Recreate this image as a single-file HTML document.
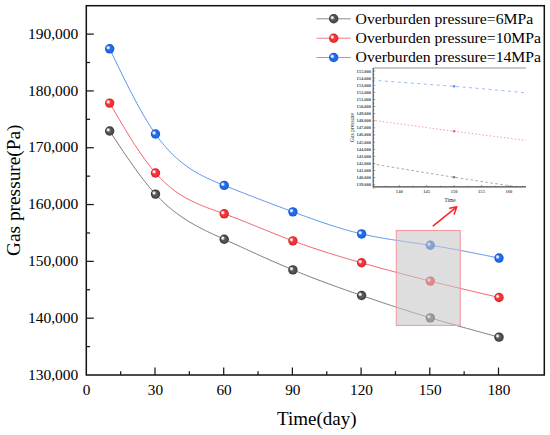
<!DOCTYPE html><html><head><meta charset="utf-8"><style>html,body{margin:0;padding:0;background:#fff}svg{display:block}text{font-family:"Liberation Serif",serif}</style></head><body>
<svg width="550" height="435" viewBox="0 0 550 435">
<defs>
<radialGradient id="gk" cx="0.5" cy="0.5" r="0.5"><stop offset="0" stop-color="#626262"/><stop offset="0.65" stop-color="#505050"/><stop offset="1" stop-color="#343434"/></radialGradient>
<radialGradient id="gr" cx="0.5" cy="0.5" r="0.5"><stop offset="0" stop-color="#f6403e"/><stop offset="0.65" stop-color="#f03034"/><stop offset="1" stop-color="#da2228"/></radialGradient>
<radialGradient id="gb" cx="0.5" cy="0.5" r="0.5"><stop offset="0" stop-color="#2a74ee"/><stop offset="0.65" stop-color="#1f68e6"/><stop offset="1" stop-color="#1656d0"/></radialGradient>
<radialGradient id="hl" cx="0.5" cy="0.5" r="0.5"><stop offset="0" stop-color="#fff" stop-opacity="1"/><stop offset="0.4" stop-color="#fff" stop-opacity="0.85"/><stop offset="1" stop-color="#fff" stop-opacity="0"/></radialGradient>
</defs>
<rect width="550" height="435" fill="#fff"/>
<path d="M109.70,131.03 L111.66,134.01 L113.61,136.99 L115.57,139.95 L117.53,142.91 L119.48,145.86 L121.44,148.79 L123.39,151.70 L125.35,154.59 L127.31,157.46 L129.26,160.29 L131.22,163.10 L133.18,165.87 L135.13,168.61 L137.09,171.30 L139.04,173.95 L141.00,176.56 L142.96,179.11 L144.91,181.61 L146.87,184.06 L148.83,186.44 L150.78,188.77 L152.74,191.03 L154.69,193.22 L156.65,195.34 L158.61,197.39 L160.56,199.36 L162.52,201.28 L164.48,203.12 L166.43,204.91 L168.39,206.63 L170.34,208.29 L172.30,209.90 L174.26,211.45 L176.21,212.95 L178.17,214.40 L180.13,215.80 L182.08,217.16 L184.04,218.47 L185.99,219.74 L187.95,220.98 L189.91,222.17 L191.86,223.33 L193.82,224.45 L195.78,225.55 L197.73,226.61 L199.69,227.65 L201.65,228.66 L203.60,229.66 L205.56,230.63 L207.51,231.58 L209.47,232.52 L211.43,233.44 L213.38,234.35 L215.34,235.25 L217.30,236.14 L219.25,237.03 L221.21,237.92 L223.16,238.80 L225.12,239.68 L227.08,240.57 L229.03,241.46 L230.99,242.35 L232.95,243.24 L234.90,244.13 L236.86,245.02 L238.81,245.91 L240.77,246.81 L242.73,247.70 L244.68,248.59 L246.64,249.49 L248.60,250.38 L250.55,251.27 L252.51,252.16 L254.46,253.05 L256.42,253.94 L258.38,254.82 L260.33,255.70 L262.29,256.58 L264.25,257.46 L266.20,258.34 L268.16,259.21 L270.12,260.08 L272.07,260.95 L274.03,261.81 L275.98,262.67 L277.94,263.52 L279.90,264.37 L281.85,265.22 L283.81,266.06 L285.77,266.89 L287.72,267.72 L289.68,268.55 L291.63,269.37 L293.59,270.18 L295.55,270.98 L297.50,271.78 L299.46,272.58 L301.42,273.37 L303.37,274.15 L305.33,274.93 L307.28,275.70 L309.24,276.47 L311.20,277.23 L313.15,277.99 L315.11,278.74 L317.07,279.49 L319.02,280.23 L320.98,280.97 L322.93,281.70 L324.89,282.43 L326.85,283.16 L328.80,283.88 L330.76,284.60 L332.72,285.31 L334.67,286.02 L336.63,286.73 L338.58,287.43 L340.54,288.14 L342.50,288.83 L344.45,289.53 L346.41,290.22 L348.37,290.91 L350.32,291.60 L352.28,292.28 L354.24,292.96 L356.19,293.64 L358.15,294.32 L360.10,295.00 L362.06,295.67 L364.02,296.35 L365.97,297.02 L367.93,297.69 L369.89,298.36 L371.84,299.02 L373.80,299.68 L375.75,300.35 L377.71,301.01 L379.67,301.66 L381.62,302.32 L383.58,302.97 L385.54,303.63 L387.49,304.28 L389.45,304.92 L391.40,305.57 L393.36,306.21 L395.32,306.85 L397.27,307.49 L399.23,308.12 L401.19,308.76 L403.14,309.39 L405.10,310.01 L407.05,310.64 L409.01,311.26 L410.97,311.88 L412.92,312.50 L414.88,313.11 L416.84,313.72 L418.79,314.33 L420.75,314.93 L422.71,315.54 L424.66,316.14 L426.62,316.73 L428.57,317.32 L430.53,317.91 L432.49,318.50 L434.44,319.08 L436.40,319.66 L438.36,320.24 L440.31,320.81 L442.27,321.38 L444.22,321.95 L446.18,322.52 L448.14,323.08 L450.09,323.64 L452.05,324.20 L454.01,324.76 L455.96,325.31 L457.92,325.87 L459.87,326.42 L461.83,326.97 L463.79,327.51 L465.74,328.06 L467.70,328.60 L469.66,329.14 L471.61,329.68 L473.57,330.22 L475.52,330.76 L477.48,331.30 L479.44,331.84 L481.39,332.37 L483.35,332.90 L485.31,333.44 L487.26,333.97 L489.22,334.50 L491.17,335.04 L493.13,335.57 L495.09,336.10 L497.04,336.63 L499.00,337.16" fill="none" stroke="#7a7a7a" stroke-width="1"/>
<path d="M109.70,103.08 L111.66,106.44 L113.61,109.80 L115.57,113.14 L117.53,116.48 L119.48,119.80 L121.44,123.09 L123.39,126.37 L125.35,129.61 L127.31,132.82 L129.26,136.00 L131.22,139.13 L133.18,142.22 L135.13,145.26 L137.09,148.25 L139.04,151.17 L141.00,154.04 L142.96,156.84 L144.91,159.57 L146.87,162.23 L148.83,164.81 L150.78,167.31 L152.74,169.72 L154.69,172.04 L156.65,174.26 L158.61,176.39 L160.56,178.43 L162.52,180.39 L164.48,182.25 L166.43,184.04 L168.39,185.74 L170.34,187.37 L172.30,188.93 L174.26,190.41 L176.21,191.83 L178.17,193.18 L180.13,194.47 L182.08,195.71 L184.04,196.89 L185.99,198.01 L187.95,199.09 L189.91,200.12 L191.86,201.10 L193.82,202.05 L195.78,202.96 L197.73,203.83 L199.69,204.68 L201.65,205.49 L203.60,206.28 L205.56,207.05 L207.51,207.80 L209.47,208.53 L211.43,209.24 L213.38,209.95 L215.34,210.65 L217.30,211.35 L219.25,212.04 L221.21,212.74 L223.16,213.44 L225.12,214.15 L227.08,214.87 L229.03,215.59 L230.99,216.33 L232.95,217.07 L234.90,217.82 L236.86,218.57 L238.81,219.33 L240.77,220.10 L242.73,220.87 L244.68,221.65 L246.64,222.43 L248.60,223.21 L250.55,224.00 L252.51,224.79 L254.46,225.58 L256.42,226.38 L258.38,227.17 L260.33,227.97 L262.29,228.76 L264.25,229.56 L266.20,230.35 L268.16,231.15 L270.12,231.94 L272.07,232.73 L274.03,233.51 L275.98,234.30 L277.94,235.08 L279.90,235.85 L281.85,236.62 L283.81,237.39 L285.77,238.15 L287.72,238.90 L289.68,239.65 L291.63,240.38 L293.59,241.12 L295.55,241.84 L297.50,242.55 L299.46,243.26 L301.42,243.96 L303.37,244.66 L305.33,245.34 L307.28,246.02 L309.24,246.69 L311.20,247.36 L313.15,248.02 L315.11,248.67 L317.07,249.32 L319.02,249.96 L320.98,250.60 L322.93,251.23 L324.89,251.85 L326.85,252.47 L328.80,253.08 L330.76,253.69 L332.72,254.30 L334.67,254.90 L336.63,255.49 L338.58,256.08 L340.54,256.67 L342.50,257.26 L344.45,257.84 L346.41,258.41 L348.37,258.99 L350.32,259.56 L352.28,260.12 L354.24,260.69 L356.19,261.25 L358.15,261.81 L360.10,262.37 L362.06,262.92 L364.02,263.47 L365.97,264.02 L367.93,264.57 L369.89,265.12 L371.84,265.67 L373.80,266.21 L375.75,266.75 L377.71,267.29 L379.67,267.83 L381.62,268.36 L383.58,268.90 L385.54,269.43 L387.49,269.96 L389.45,270.49 L391.40,271.01 L393.36,271.54 L395.32,272.06 L397.27,272.58 L399.23,273.10 L401.19,273.61 L403.14,274.13 L405.10,274.64 L407.05,275.15 L409.01,275.66 L410.97,276.17 L412.92,276.67 L414.88,277.18 L416.84,277.68 L418.79,278.18 L420.75,278.68 L422.71,279.17 L424.66,279.67 L426.62,280.16 L428.57,280.65 L430.53,281.14 L432.49,281.63 L434.44,282.11 L436.40,282.60 L438.36,283.08 L440.31,283.56 L442.27,284.04 L444.22,284.52 L446.18,285.00 L448.14,285.47 L450.09,285.94 L452.05,286.42 L454.01,286.89 L455.96,287.36 L457.92,287.83 L459.87,288.29 L461.83,288.76 L463.79,289.23 L465.74,289.69 L467.70,290.16 L469.66,290.62 L471.61,291.08 L473.57,291.54 L475.52,292.00 L477.48,292.46 L479.44,292.92 L481.39,293.38 L483.35,293.84 L485.31,294.30 L487.26,294.76 L489.22,295.22 L491.17,295.67 L493.13,296.13 L495.09,296.59 L497.04,297.05 L499.00,297.50" fill="none" stroke="#f2626c" stroke-width="1"/>
<path d="M109.70,48.82 L111.66,52.90 L113.61,56.96 L115.57,61.02 L117.53,65.06 L119.48,69.09 L121.44,73.09 L123.39,77.06 L125.35,81.00 L127.31,84.90 L129.26,88.76 L131.22,92.57 L133.18,96.33 L135.13,100.04 L137.09,103.68 L139.04,107.25 L141.00,110.76 L142.96,114.18 L144.91,117.53 L146.87,120.79 L148.83,123.97 L150.78,127.04 L152.74,130.02 L154.69,132.89 L156.65,135.66 L158.61,138.31 L160.56,140.86 L162.52,143.31 L164.48,145.66 L166.43,147.91 L168.39,150.07 L170.34,152.13 L172.30,154.11 L174.26,156.00 L176.21,157.82 L178.17,159.55 L180.13,161.21 L182.08,162.80 L184.04,164.32 L185.99,165.77 L187.95,167.16 L189.91,168.49 L191.86,169.77 L193.82,170.99 L195.78,172.16 L197.73,173.28 L199.69,174.36 L201.65,175.40 L203.60,176.40 L205.56,177.36 L207.51,178.30 L209.47,179.20 L211.43,180.08 L213.38,180.94 L215.34,181.77 L217.30,182.60 L219.25,183.40 L221.21,184.20 L223.16,184.99 L225.12,185.78 L227.08,186.56 L229.03,187.34 L230.99,188.12 L232.95,188.90 L234.90,189.67 L236.86,190.45 L238.81,191.22 L240.77,191.99 L242.73,192.75 L244.68,193.52 L246.64,194.28 L248.60,195.04 L250.55,195.80 L252.51,196.56 L254.46,197.31 L256.42,198.06 L258.38,198.82 L260.33,199.57 L262.29,200.31 L264.25,201.06 L266.20,201.81 L268.16,202.55 L270.12,203.29 L272.07,204.03 L274.03,204.77 L275.98,205.51 L277.94,206.24 L279.90,206.98 L281.85,207.71 L283.81,208.44 L285.77,209.17 L287.72,209.90 L289.68,210.63 L291.63,211.36 L293.59,212.08 L295.55,212.81 L297.50,213.53 L299.46,214.25 L301.42,214.97 L303.37,215.68 L305.33,216.40 L307.28,217.11 L309.24,217.81 L311.20,218.51 L313.15,219.21 L315.11,219.90 L317.07,220.59 L319.02,221.27 L320.98,221.94 L322.93,222.61 L324.89,223.27 L326.85,223.92 L328.80,224.57 L330.76,225.21 L332.72,225.84 L334.67,226.46 L336.63,227.07 L338.58,227.67 L340.54,228.27 L342.50,228.85 L344.45,229.42 L346.41,229.98 L348.37,230.53 L350.32,231.07 L352.28,231.60 L354.24,232.11 L356.19,232.61 L358.15,233.10 L360.10,233.57 L362.06,234.03 L364.02,234.48 L365.97,234.91 L367.93,235.33 L369.89,235.74 L371.84,236.14 L373.80,236.52 L375.75,236.89 L377.71,237.26 L379.67,237.61 L381.62,237.96 L383.58,238.29 L385.54,238.62 L387.49,238.94 L389.45,239.26 L391.40,239.56 L393.36,239.87 L395.32,240.16 L397.27,240.46 L399.23,240.74 L401.19,241.03 L403.14,241.31 L405.10,241.59 L407.05,241.87 L409.01,242.15 L410.97,242.42 L412.92,242.70 L414.88,242.97 L416.84,243.25 L418.79,243.53 L420.75,243.81 L422.71,244.10 L424.66,244.38 L426.62,244.67 L428.57,244.97 L430.53,245.27 L432.49,245.57 L434.44,245.89 L436.40,246.20 L438.36,246.52 L440.31,246.85 L442.27,247.18 L444.22,247.51 L446.18,247.85 L448.14,248.19 L450.09,248.54 L452.05,248.89 L454.01,249.25 L455.96,249.61 L457.92,249.97 L459.87,250.33 L461.83,250.70 L463.79,251.07 L465.74,251.45 L467.70,251.82 L469.66,252.20 L471.61,252.58 L473.57,252.96 L475.52,253.35 L477.48,253.74 L479.44,254.13 L481.39,254.52 L483.35,254.91 L485.31,255.30 L487.26,255.70 L489.22,256.09 L491.17,256.49 L493.13,256.88 L495.09,257.28 L497.04,257.68 L499.00,258.07" fill="none" stroke="#5a96ee" stroke-width="1"/>
<circle cx="109.70" cy="131.03" r="4.7" fill="url(#gk)"/>
<circle cx="108.25" cy="129.88" r="2.3" fill="url(#hl)"/>
<circle cx="155.50" cy="194.10" r="4.7" fill="url(#gk)"/>
<circle cx="154.05" cy="192.95" r="2.3" fill="url(#hl)"/>
<circle cx="224.20" cy="239.27" r="4.7" fill="url(#gk)"/>
<circle cx="222.75" cy="238.12" r="2.3" fill="url(#hl)"/>
<circle cx="292.90" cy="269.89" r="4.7" fill="url(#gk)"/>
<circle cx="291.45" cy="268.74" r="2.3" fill="url(#hl)"/>
<circle cx="361.60" cy="295.52" r="4.7" fill="url(#gk)"/>
<circle cx="360.15" cy="294.37" r="2.3" fill="url(#hl)"/>
<circle cx="430.30" cy="317.84" r="4.7" fill="url(#gk)"/>
<circle cx="428.85" cy="316.69" r="2.3" fill="url(#hl)"/>
<circle cx="499.00" cy="337.16" r="4.7" fill="url(#gk)"/>
<circle cx="497.55" cy="336.01" r="2.3" fill="url(#hl)"/>
<circle cx="109.70" cy="103.08" r="4.7" fill="url(#gr)"/>
<circle cx="108.25" cy="101.93" r="2.3" fill="url(#hl)"/>
<circle cx="155.50" cy="172.96" r="4.7" fill="url(#gr)"/>
<circle cx="154.05" cy="171.81" r="2.3" fill="url(#hl)"/>
<circle cx="224.20" cy="213.81" r="4.7" fill="url(#gr)"/>
<circle cx="222.75" cy="212.66" r="2.3" fill="url(#hl)"/>
<circle cx="292.90" cy="240.86" r="4.7" fill="url(#gr)"/>
<circle cx="291.45" cy="239.71" r="2.3" fill="url(#hl)"/>
<circle cx="361.60" cy="262.79" r="4.7" fill="url(#gr)"/>
<circle cx="360.15" cy="261.64" r="2.3" fill="url(#hl)"/>
<circle cx="430.30" cy="281.08" r="4.7" fill="url(#gr)"/>
<circle cx="428.85" cy="279.93" r="2.3" fill="url(#hl)"/>
<circle cx="499.00" cy="297.50" r="4.7" fill="url(#gr)"/>
<circle cx="497.55" cy="296.35" r="2.3" fill="url(#hl)"/>
<circle cx="109.70" cy="48.82" r="4.7" fill="url(#gb)"/>
<circle cx="108.25" cy="47.67" r="2.3" fill="url(#hl)"/>
<circle cx="155.50" cy="134.05" r="4.7" fill="url(#gb)"/>
<circle cx="154.05" cy="132.90" r="2.3" fill="url(#hl)"/>
<circle cx="224.20" cy="185.41" r="4.7" fill="url(#gb)"/>
<circle cx="222.75" cy="184.26" r="2.3" fill="url(#hl)"/>
<circle cx="292.90" cy="211.83" r="4.7" fill="url(#gb)"/>
<circle cx="291.45" cy="210.68" r="2.3" fill="url(#hl)"/>
<circle cx="361.60" cy="233.93" r="4.7" fill="url(#gb)"/>
<circle cx="360.15" cy="232.78" r="2.3" fill="url(#hl)"/>
<circle cx="430.30" cy="245.23" r="4.7" fill="url(#gb)"/>
<circle cx="428.85" cy="244.08" r="2.3" fill="url(#hl)"/>
<circle cx="499.00" cy="258.07" r="4.7" fill="url(#gb)"/>
<circle cx="497.55" cy="256.92" r="2.3" fill="url(#hl)"/>
<rect x="396.3" y="230.5" width="64" height="94.9" fill="#c8c8c8" fill-opacity="0.6" stroke="#f29ca0" stroke-width="1.1"/>
<rect x="86.3" y="5.7" width="458" height="369.3" fill="none" stroke="#111" stroke-width="1.5"/>
<line x1="120.65" y1="375" x2="120.65" y2="371.2" stroke="#1a1a1a" stroke-width="1.25"/>
<line x1="155.00" y1="375" x2="155.00" y2="367.5" stroke="#1a1a1a" stroke-width="1.25"/>
<line x1="189.35" y1="375" x2="189.35" y2="371.2" stroke="#1a1a1a" stroke-width="1.25"/>
<line x1="223.70" y1="375" x2="223.70" y2="367.5" stroke="#1a1a1a" stroke-width="1.25"/>
<line x1="258.05" y1="375" x2="258.05" y2="371.2" stroke="#1a1a1a" stroke-width="1.25"/>
<line x1="292.40" y1="375" x2="292.40" y2="367.5" stroke="#1a1a1a" stroke-width="1.25"/>
<line x1="326.75" y1="375" x2="326.75" y2="371.2" stroke="#1a1a1a" stroke-width="1.25"/>
<line x1="361.10" y1="375" x2="361.10" y2="367.5" stroke="#1a1a1a" stroke-width="1.25"/>
<line x1="395.45" y1="375" x2="395.45" y2="371.2" stroke="#1a1a1a" stroke-width="1.25"/>
<line x1="429.80" y1="375" x2="429.80" y2="367.5" stroke="#1a1a1a" stroke-width="1.25"/>
<line x1="464.15" y1="375" x2="464.15" y2="371.2" stroke="#1a1a1a" stroke-width="1.25"/>
<line x1="498.50" y1="375" x2="498.50" y2="367.5" stroke="#1a1a1a" stroke-width="1.25"/>
<text x="86.70" y="395.2" font-size="15.3" text-anchor="middle">0</text>
<text x="155.40" y="395.2" font-size="15.3" text-anchor="middle">30</text>
<text x="224.10" y="395.2" font-size="15.3" text-anchor="middle">60</text>
<text x="292.80" y="395.2" font-size="15.3" text-anchor="middle">90</text>
<text x="361.50" y="395.2" font-size="15.3" text-anchor="middle">120</text>
<text x="430.20" y="395.2" font-size="15.3" text-anchor="middle">150</text>
<text x="498.90" y="395.2" font-size="15.3" text-anchor="middle">180</text>
<line x1="86.3" y1="346.59" x2="90.1" y2="346.59" stroke="#1a1a1a" stroke-width="1.25"/>
<line x1="86.3" y1="318.18" x2="93.8" y2="318.18" stroke="#1a1a1a" stroke-width="1.25"/>
<line x1="86.3" y1="289.78" x2="90.1" y2="289.78" stroke="#1a1a1a" stroke-width="1.25"/>
<line x1="86.3" y1="261.37" x2="93.8" y2="261.37" stroke="#1a1a1a" stroke-width="1.25"/>
<line x1="86.3" y1="232.96" x2="90.1" y2="232.96" stroke="#1a1a1a" stroke-width="1.25"/>
<line x1="86.3" y1="204.55" x2="93.8" y2="204.55" stroke="#1a1a1a" stroke-width="1.25"/>
<line x1="86.3" y1="176.15" x2="90.1" y2="176.15" stroke="#1a1a1a" stroke-width="1.25"/>
<line x1="86.3" y1="147.74" x2="93.8" y2="147.74" stroke="#1a1a1a" stroke-width="1.25"/>
<line x1="86.3" y1="119.33" x2="90.1" y2="119.33" stroke="#1a1a1a" stroke-width="1.25"/>
<line x1="86.3" y1="90.92" x2="93.8" y2="90.92" stroke="#1a1a1a" stroke-width="1.25"/>
<line x1="86.3" y1="62.52" x2="90.1" y2="62.52" stroke="#1a1a1a" stroke-width="1.25"/>
<line x1="86.3" y1="34.11" x2="93.8" y2="34.11" stroke="#1a1a1a" stroke-width="1.25"/>
<text x="78.3" y="379.60" font-size="15.5" text-anchor="end">130,000</text>
<text x="78.3" y="322.78" font-size="15.5" text-anchor="end">140,000</text>
<text x="78.3" y="265.97" font-size="15.5" text-anchor="end">150,000</text>
<text x="78.3" y="209.15" font-size="15.5" text-anchor="end">160,000</text>
<text x="78.3" y="152.34" font-size="15.5" text-anchor="end">170,000</text>
<text x="78.3" y="95.52" font-size="15.5" text-anchor="end">180,000</text>
<text x="78.3" y="38.71" font-size="15.5" text-anchor="end">190,000</text>
<text x="277" y="424.5" font-size="19">Time(day)</text>
<text transform="translate(19.8,190.2) rotate(-90)" font-size="18" text-anchor="middle" textLength="131.5" lengthAdjust="spacingAndGlyphs">Gas pressure(Pa)</text>
<line x1="316.5" y1="18.8" x2="350.8" y2="18.8" stroke="#8a8a8a" stroke-width="1"/>
<circle cx="333.70" cy="18.80" r="4.7" fill="url(#gk)"/>
<circle cx="332.25" cy="17.65" r="2.3" fill="url(#hl)"/>
<text x="355.6" y="23.70" font-size="15.1" textLength="177.6" lengthAdjust="spacingAndGlyphs">Overburden pressure=6MPa</text>
<line x1="316.5" y1="38.2" x2="350.8" y2="38.2" stroke="#f47a84" stroke-width="1"/>
<circle cx="333.70" cy="38.20" r="4.7" fill="url(#gr)"/>
<circle cx="332.25" cy="37.05" r="2.3" fill="url(#hl)"/>
<text x="355.6" y="43.10" font-size="15.1" textLength="185.4" lengthAdjust="spacingAndGlyphs">Overburden pressure=10MPa</text>
<line x1="316.5" y1="57.5" x2="350.8" y2="57.5" stroke="#7aa8f0" stroke-width="1"/>
<circle cx="333.70" cy="57.50" r="4.7" fill="url(#gb)"/>
<circle cx="332.25" cy="56.35" r="2.3" fill="url(#hl)"/>
<text x="355.6" y="62.40" font-size="15.1" textLength="185.4" lengthAdjust="spacingAndGlyphs">Overburden pressure=14MPa</text>
<clipPath id="ic"><rect x="373.2" y="68" width="153" height="118.9"/></clipPath>
<g>
<rect x="373.2" y="68" width="153" height="118.9" fill="#fff"/>
<g clip-path="url(#ic)">
<path d="M371.90,163.72 L374.52,164.17 L377.14,164.62 L379.76,165.06 L382.38,165.50 L385.00,165.95 L387.62,166.39 L390.23,166.83 L392.85,167.27 L395.47,167.71 L398.09,168.14 L400.71,168.58 L403.33,169.01 L405.95,169.45 L408.57,169.88 L411.19,170.31 L413.81,170.74 L416.43,171.17 L419.05,171.60 L421.67,172.03 L424.29,172.46 L426.90,172.88 L429.52,173.30 L432.14,173.73 L434.76,174.15 L437.38,174.57 L440.00,174.99 L442.62,175.41 L445.24,175.82 L447.86,176.24 L450.48,176.65 L453.10,177.07 L455.72,177.48 L458.34,177.89 L460.95,178.30 L463.57,178.70 L466.19,179.11 L468.81,179.52 L471.43,179.92 L474.05,180.32 L476.67,180.73 L479.29,181.13 L481.91,181.53 L484.53,181.93 L487.15,182.32 L489.77,182.72 L492.39,183.12 L495.00,183.51 L497.62,183.91 L500.24,184.30 L502.86,184.69 L505.48,185.08 L508.10,185.47 L510.72,185.86 L513.34,186.25 L515.96,186.64 L518.58,187.02 L521.20,187.41 L523.82,187.80 L526.44,188.18" fill="none" stroke="#9a9a9a" stroke-width="0.9" stroke-dasharray="2.5,2.5"/>
<circle cx="454.10" cy="177.22" r="1.3" fill="#7a7a7a"/>
<path d="M371.90,120.14 L374.52,120.50 L377.14,120.86 L379.76,121.23 L382.38,121.59 L385.00,121.95 L387.62,122.31 L390.23,122.67 L392.85,123.03 L395.47,123.39 L398.09,123.75 L400.71,124.10 L403.33,124.46 L405.95,124.81 L408.57,125.17 L411.19,125.52 L413.81,125.88 L416.43,126.23 L419.05,126.58 L421.67,126.93 L424.29,127.28 L426.90,127.63 L429.52,127.98 L432.14,128.33 L434.76,128.68 L437.38,129.02 L440.00,129.37 L442.62,129.72 L445.24,130.06 L447.86,130.40 L450.48,130.75 L453.10,131.09 L455.72,131.43 L458.34,131.77 L460.95,132.11 L463.57,132.45 L466.19,132.79 L468.81,133.13 L471.43,133.47 L474.05,133.81 L476.67,134.14 L479.29,134.48 L481.91,134.82 L484.53,135.15 L487.15,135.49 L489.77,135.82 L492.39,136.15 L495.00,136.48 L497.62,136.82 L500.24,137.15 L502.86,137.48 L505.48,137.81 L508.10,138.14 L510.72,138.47 L513.34,138.80 L515.96,139.13 L518.58,139.46 L521.20,139.79 L523.82,140.11 L526.44,140.44" fill="none" stroke="#f29aa2" stroke-width="0.9" stroke-dasharray="1.6,2"/>
<circle cx="454.10" cy="131.22" r="1.3" fill="#f2626c"/>
<path d="M371.90,80.13 L374.52,80.34 L377.14,80.54 L379.76,80.74 L382.38,80.94 L385.00,81.14 L387.62,81.34 L390.23,81.53 L392.85,81.73 L395.47,81.92 L398.09,82.12 L400.71,82.31 L403.33,82.51 L405.95,82.70 L408.57,82.89 L411.19,83.09 L413.81,83.28 L416.43,83.47 L419.05,83.67 L421.67,83.86 L424.29,84.06 L426.90,84.25 L429.52,84.45 L432.14,84.65 L434.76,84.84 L437.38,85.04 L440.00,85.25 L442.62,85.45 L445.24,85.65 L447.86,85.86 L450.48,86.07 L453.10,86.28 L455.72,86.49 L458.34,86.70 L460.95,86.92 L463.57,87.14 L466.19,87.36 L468.81,87.58 L471.43,87.80 L474.05,88.03 L476.67,88.26 L479.29,88.49 L481.91,88.72 L484.53,88.95 L487.15,89.19 L489.77,89.42 L492.39,89.66 L495.00,89.90 L497.62,90.14 L500.24,90.38 L502.86,90.63 L505.48,90.87 L508.10,91.12 L510.72,91.37 L513.34,91.62 L515.96,91.87 L518.58,92.13 L521.20,92.38 L523.82,92.64 L526.44,92.89" fill="none" stroke="#8ab2f0" stroke-width="0.9" stroke-dasharray="3,3.5"/>
<circle cx="454.10" cy="86.36" r="1.3" fill="#5a96ee"/>
</g>
<path d="M373.2,68 H526" fill="none" stroke="#888" stroke-width="0.9"/>
<path d="M373.2,68 V186.9 H526" fill="none" stroke="#484848" stroke-width="1.1"/>
<line x1="373.2" y1="71.00" x2="375.2" y2="71.00" stroke="#505050" stroke-width="0.6"/>
<line x1="373.2" y1="74.56" x2="374.4" y2="74.56" stroke="#505050" stroke-width="0.6"/>
<line x1="373.2" y1="78.11" x2="375.2" y2="78.11" stroke="#505050" stroke-width="0.6"/>
<line x1="373.2" y1="81.67" x2="374.4" y2="81.67" stroke="#505050" stroke-width="0.6"/>
<line x1="373.2" y1="85.22" x2="375.2" y2="85.22" stroke="#505050" stroke-width="0.6"/>
<line x1="373.2" y1="88.78" x2="374.4" y2="88.78" stroke="#505050" stroke-width="0.6"/>
<line x1="373.2" y1="92.33" x2="375.2" y2="92.33" stroke="#505050" stroke-width="0.6"/>
<line x1="373.2" y1="95.89" x2="374.4" y2="95.89" stroke="#505050" stroke-width="0.6"/>
<line x1="373.2" y1="99.44" x2="375.2" y2="99.44" stroke="#505050" stroke-width="0.6"/>
<line x1="373.2" y1="103.00" x2="374.4" y2="103.00" stroke="#505050" stroke-width="0.6"/>
<line x1="373.2" y1="106.55" x2="375.2" y2="106.55" stroke="#505050" stroke-width="0.6"/>
<line x1="373.2" y1="110.11" x2="374.4" y2="110.11" stroke="#505050" stroke-width="0.6"/>
<line x1="373.2" y1="113.66" x2="375.2" y2="113.66" stroke="#505050" stroke-width="0.6"/>
<line x1="373.2" y1="117.22" x2="374.4" y2="117.22" stroke="#505050" stroke-width="0.6"/>
<line x1="373.2" y1="120.77" x2="375.2" y2="120.77" stroke="#505050" stroke-width="0.6"/>
<line x1="373.2" y1="124.33" x2="374.4" y2="124.33" stroke="#505050" stroke-width="0.6"/>
<line x1="373.2" y1="127.88" x2="375.2" y2="127.88" stroke="#505050" stroke-width="0.6"/>
<line x1="373.2" y1="131.44" x2="374.4" y2="131.44" stroke="#505050" stroke-width="0.6"/>
<line x1="373.2" y1="134.99" x2="375.2" y2="134.99" stroke="#505050" stroke-width="0.6"/>
<line x1="373.2" y1="138.55" x2="374.4" y2="138.55" stroke="#505050" stroke-width="0.6"/>
<line x1="373.2" y1="142.10" x2="375.2" y2="142.10" stroke="#505050" stroke-width="0.6"/>
<line x1="373.2" y1="145.66" x2="374.4" y2="145.66" stroke="#505050" stroke-width="0.6"/>
<line x1="373.2" y1="149.21" x2="375.2" y2="149.21" stroke="#505050" stroke-width="0.6"/>
<line x1="373.2" y1="152.76" x2="374.4" y2="152.76" stroke="#505050" stroke-width="0.6"/>
<line x1="373.2" y1="156.32" x2="375.2" y2="156.32" stroke="#505050" stroke-width="0.6"/>
<line x1="373.2" y1="159.88" x2="374.4" y2="159.88" stroke="#505050" stroke-width="0.6"/>
<line x1="373.2" y1="163.43" x2="375.2" y2="163.43" stroke="#505050" stroke-width="0.6"/>
<line x1="373.2" y1="166.99" x2="374.4" y2="166.99" stroke="#505050" stroke-width="0.6"/>
<line x1="373.2" y1="170.54" x2="375.2" y2="170.54" stroke="#505050" stroke-width="0.6"/>
<line x1="373.2" y1="174.09" x2="374.4" y2="174.09" stroke="#505050" stroke-width="0.6"/>
<line x1="373.2" y1="177.65" x2="375.2" y2="177.65" stroke="#505050" stroke-width="0.6"/>
<line x1="373.2" y1="181.20" x2="374.4" y2="181.20" stroke="#505050" stroke-width="0.6"/>
<line x1="373.2" y1="184.76" x2="375.2" y2="184.76" stroke="#505050" stroke-width="0.6"/>
<line x1="373.2" y1="188.31" x2="374.4" y2="188.31" stroke="#505050" stroke-width="0.6"/>
<text x="371" y="72.50" font-size="4.5" font-weight="bold" text-anchor="end" fill="#505050">155,000</text>
<text x="371" y="79.61" font-size="4.5" font-weight="bold" text-anchor="end" fill="#505050">154,000</text>
<text x="371" y="86.72" font-size="4.5" font-weight="bold" text-anchor="end" fill="#505050">153,000</text>
<text x="371" y="93.83" font-size="4.5" font-weight="bold" text-anchor="end" fill="#505050">152,000</text>
<text x="371" y="100.94" font-size="4.5" font-weight="bold" text-anchor="end" fill="#505050">151,000</text>
<text x="371" y="108.05" font-size="4.5" font-weight="bold" text-anchor="end" fill="#505050">150,000</text>
<text x="371" y="115.16" font-size="4.5" font-weight="bold" text-anchor="end" fill="#505050">149,000</text>
<text x="371" y="122.27" font-size="4.5" font-weight="bold" text-anchor="end" fill="#505050">148,000</text>
<text x="371" y="129.38" font-size="4.5" font-weight="bold" text-anchor="end" fill="#505050">147,000</text>
<text x="371" y="136.49" font-size="4.5" font-weight="bold" text-anchor="end" fill="#505050">146,000</text>
<text x="371" y="143.60" font-size="4.5" font-weight="bold" text-anchor="end" fill="#505050">145,000</text>
<text x="371" y="150.71" font-size="4.5" font-weight="bold" text-anchor="end" fill="#505050">144,000</text>
<text x="371" y="157.82" font-size="4.5" font-weight="bold" text-anchor="end" fill="#505050">143,000</text>
<text x="371" y="164.93" font-size="4.5" font-weight="bold" text-anchor="end" fill="#505050">142,000</text>
<text x="371" y="172.04" font-size="4.5" font-weight="bold" text-anchor="end" fill="#505050">141,000</text>
<text x="371" y="179.15" font-size="4.5" font-weight="bold" text-anchor="end" fill="#505050">140,000</text>
<text x="371" y="186.26" font-size="4.5" font-weight="bold" text-anchor="end" fill="#505050">139,000</text>
<line x1="385.60" y1="186.9" x2="385.60" y2="185.70000000000002" stroke="#505050" stroke-width="0.6"/>
<line x1="399.30" y1="186.9" x2="399.30" y2="185.1" stroke="#505050" stroke-width="0.6"/>
<line x1="413.00" y1="186.9" x2="413.00" y2="185.70000000000002" stroke="#505050" stroke-width="0.6"/>
<line x1="426.70" y1="186.9" x2="426.70" y2="185.1" stroke="#505050" stroke-width="0.6"/>
<line x1="440.40" y1="186.9" x2="440.40" y2="185.70000000000002" stroke="#505050" stroke-width="0.6"/>
<line x1="454.10" y1="186.9" x2="454.10" y2="185.1" stroke="#505050" stroke-width="0.6"/>
<line x1="467.80" y1="186.9" x2="467.80" y2="185.70000000000002" stroke="#505050" stroke-width="0.6"/>
<line x1="481.50" y1="186.9" x2="481.50" y2="185.1" stroke="#505050" stroke-width="0.6"/>
<line x1="495.20" y1="186.9" x2="495.20" y2="185.70000000000002" stroke="#505050" stroke-width="0.6"/>
<line x1="508.90" y1="186.9" x2="508.90" y2="185.1" stroke="#505050" stroke-width="0.6"/>
<line x1="522.60" y1="186.9" x2="522.60" y2="185.70000000000002" stroke="#505050" stroke-width="0.6"/>
<text x="399.30" y="193" font-size="4.6" font-weight="bold" text-anchor="middle" fill="#606060">140</text>
<text x="426.70" y="193" font-size="4.6" font-weight="bold" text-anchor="middle" fill="#606060">145</text>
<text x="454.10" y="193" font-size="4.6" font-weight="bold" text-anchor="middle" fill="#606060">150</text>
<text x="481.50" y="193" font-size="4.6" font-weight="bold" text-anchor="middle" fill="#606060">155</text>
<text x="508.90" y="193" font-size="4.6" font-weight="bold" text-anchor="middle" fill="#606060">160</text>
<text x="450" y="202" font-size="5.3" text-anchor="middle" fill="#222">Time</text>
<text transform="translate(353.5,127.6) rotate(-90)" font-size="5.7" text-anchor="middle" fill="#222">Gas pressure</text>
</g>
<path d="M433.2,225.9 L456.8,206.8 M449.7,208.2 L456.8,206.8 L454.2,214.1" fill="none" stroke="#fa2626" stroke-width="1.5" stroke-linecap="round" stroke-linejoin="round"/>
</svg></body></html>
